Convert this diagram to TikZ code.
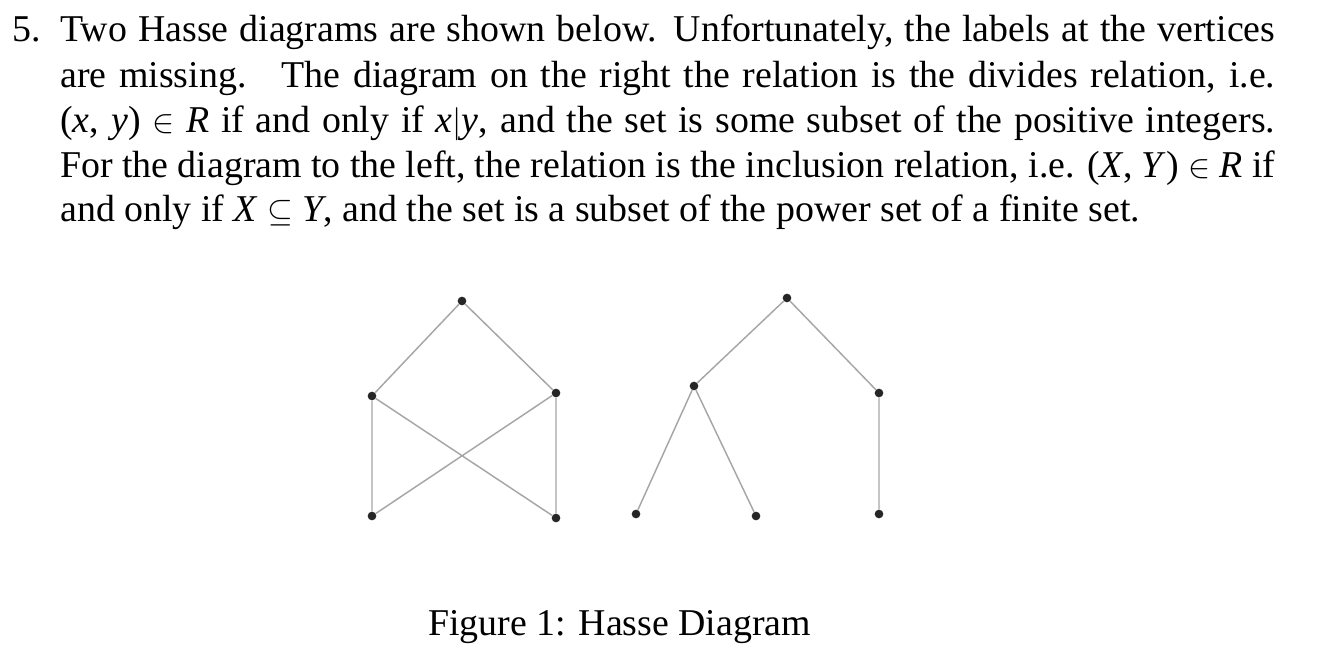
\documentclass[tikz,border=0pt]{standalone}
\usepackage{fontspec}
\setmainfont{Liberation Serif}
\newcommand{\mv}[1]{\textit{#1}}
\begin{document}
\begin{tikzpicture}[x=0.75pt,y=-0.75pt,
  vtx/.style={circle,fill=black!85,inner sep=0pt,minimum size=6.5pt},
  edge/.style={draw=gray!70,line width=1.1pt},
  txt/.style={anchor=base west,inner sep=0pt,font=\fontsize{28.4}{34}\selectfont}]
\useasboundingbox (0,0) rectangle (1332,652);
\node[txt] (n5) at (12,42) {5.};
\node[txt] (l1) at (60,42) {\makebox[1215\dimexpr0.75pt\relax][s]{Two Hasse diagrams are shown below. Unfortunately, the labels at the vertices}};
\node[txt] (l2) at (60,88) {\makebox[1215\dimexpr0.75pt\relax][s]{are missing. \ The diagram on the right the relation is the divides relation, i.e.}};
\node[txt] (l3) at (60,133) {\makebox[1215\dimexpr0.75pt\relax][s]{(\mv{x}, \mv{y}) $\in$ \mv{R} if and only if \mv{x}$|$\mv{y}, and the set is some subset of the positive integers.}};
\node[txt] (l4) at (60,178) {\makebox[1215\dimexpr0.75pt\relax][s]{For the diagram to the left, the relation is the inclusion relation, i.e. (\mv{X}, \mv{Y}) $\in$ \mv{R} if}};
\node[txt] (l5) at (60,222) {and only if \mv{X} $\subseteq$ \mv{Y}, and the set is a subset of the power set of a finite set.};
\node[txt] (cap) at (428,635) {Figure 1: Hasse Diagram};
\node[vtx] (t) at (462,301) {};
\node[vtx] (ml) at (372,396) {};
\node[vtx] (mr) at (556,393) {};
\node[vtx] (bl) at (372,516) {};
\node[vtx] (br) at (556,518) {};
\draw[edge] (t)--(ml) (t)--(mr) (ml)--(bl) (ml)--(br) (mr)--(bl) (mr)--(br);
\node[vtx] (rt) at (787,298) {};
\node[vtx] (ra) at (694,386) {};
\node[vtx] (rb) at (879,393) {};
\node[vtx] (rc) at (636,514) {};
\node[vtx] (rd) at (756,516) {};
\node[vtx] (re) at (879,514) {};
\draw[edge] (rt)--(ra) (rt)--(rb) (ra)--(rc) (ra)--(rd) (rb)--(re);
\end{tikzpicture}
\end{document}
